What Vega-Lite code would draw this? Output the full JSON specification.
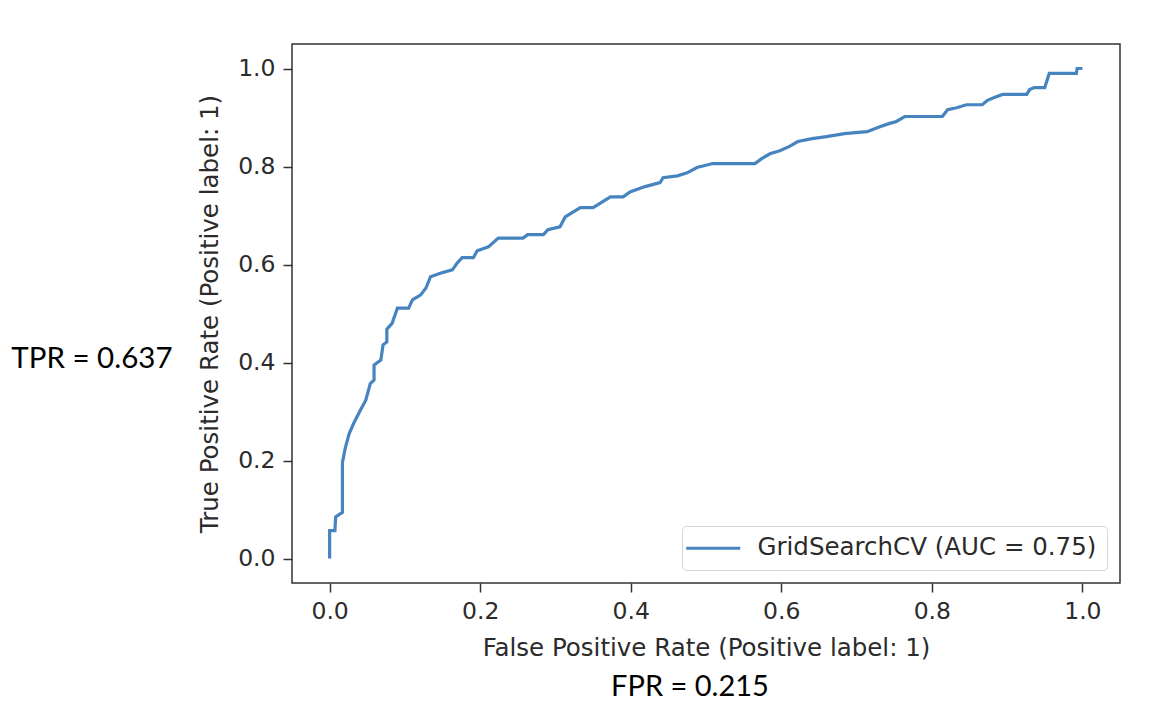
{
  "$schema": "https://vega.github.io/schema/vega-lite/v6.json",
  "autosize": "none",
  "width": 828,
  "height": 539,
  "padding": {"left": 292, "top": 44, "right": 30, "bottom": 133},
  "background": "white",
  "title": {
    "text": "FPR = 0.215",
    "orient": "bottom",
    "anchor": "middle",
    "font": "Lato",
    "fontSize": 29,
    "fontWeight": "normal",
    "color": "black",
    "offset": 13,
    "dx": -16
  },
  "data": {
    "values": [
      {"fpr": 0, "tpr": 0, "name": "GridSearchCV (AUC = 0.75)"},
      {"fpr": 0, "tpr": 0.057, "name": "GridSearchCV (AUC = 0.75)"},
      {"fpr": 0.007, "tpr": 0.057, "name": "GridSearchCV (AUC = 0.75)"},
      {"fpr": 0.008, "tpr": 0.085, "name": "GridSearchCV (AUC = 0.75)"},
      {"fpr": 0.017, "tpr": 0.094, "name": "GridSearchCV (AUC = 0.75)"},
      {"fpr": 0.017, "tpr": 0.196, "name": "GridSearchCV (AUC = 0.75)"},
      {"fpr": 0.021, "tpr": 0.227, "name": "GridSearchCV (AUC = 0.75)"},
      {"fpr": 0.026, "tpr": 0.255, "name": "GridSearchCV (AUC = 0.75)"},
      {"fpr": 0.032, "tpr": 0.276, "name": "GridSearchCV (AUC = 0.75)"},
      {"fpr": 0.041, "tpr": 0.303, "name": "GridSearchCV (AUC = 0.75)"},
      {"fpr": 0.048, "tpr": 0.323, "name": "GridSearchCV (AUC = 0.75)"},
      {"fpr": 0.054, "tpr": 0.357, "name": "GridSearchCV (AUC = 0.75)"},
      {"fpr": 0.059, "tpr": 0.364, "name": "GridSearchCV (AUC = 0.75)"},
      {"fpr": 0.059, "tpr": 0.395, "name": "GridSearchCV (AUC = 0.75)"},
      {"fpr": 0.068, "tpr": 0.405, "name": "GridSearchCV (AUC = 0.75)"},
      {"fpr": 0.071, "tpr": 0.436, "name": "GridSearchCV (AUC = 0.75)"},
      {"fpr": 0.076, "tpr": 0.442, "name": "GridSearchCV (AUC = 0.75)"},
      {"fpr": 0.076, "tpr": 0.468, "name": "GridSearchCV (AUC = 0.75)"},
      {"fpr": 0.083, "tpr": 0.48, "name": "GridSearchCV (AUC = 0.75)"},
      {"fpr": 0.09, "tpr": 0.511, "name": "GridSearchCV (AUC = 0.75)"},
      {"fpr": 0.105, "tpr": 0.511, "name": "GridSearchCV (AUC = 0.75)"},
      {"fpr": 0.11, "tpr": 0.528, "name": "GridSearchCV (AUC = 0.75)"},
      {"fpr": 0.121, "tpr": 0.538, "name": "GridSearchCV (AUC = 0.75)"},
      {"fpr": 0.128, "tpr": 0.552, "name": "GridSearchCV (AUC = 0.75)"},
      {"fpr": 0.134, "tpr": 0.575, "name": "GridSearchCV (AUC = 0.75)"},
      {"fpr": 0.147, "tpr": 0.582, "name": "GridSearchCV (AUC = 0.75)"},
      {"fpr": 0.163, "tpr": 0.589, "name": "GridSearchCV (AUC = 0.75)"},
      {"fpr": 0.169, "tpr": 0.602, "name": "GridSearchCV (AUC = 0.75)"},
      {"fpr": 0.176, "tpr": 0.614, "name": "GridSearchCV (AUC = 0.75)"},
      {"fpr": 0.191, "tpr": 0.614, "name": "GridSearchCV (AUC = 0.75)"},
      {"fpr": 0.196, "tpr": 0.628, "name": "GridSearchCV (AUC = 0.75)"},
      {"fpr": 0.211, "tpr": 0.636, "name": "GridSearchCV (AUC = 0.75)"},
      {"fpr": 0.224, "tpr": 0.654, "name": "GridSearchCV (AUC = 0.75)"},
      {"fpr": 0.257, "tpr": 0.654, "name": "GridSearchCV (AUC = 0.75)"},
      {"fpr": 0.263, "tpr": 0.661, "name": "GridSearchCV (AUC = 0.75)"},
      {"fpr": 0.284, "tpr": 0.661, "name": "GridSearchCV (AUC = 0.75)"},
      {"fpr": 0.29, "tpr": 0.671, "name": "GridSearchCV (AUC = 0.75)"},
      {"fpr": 0.306, "tpr": 0.677, "name": "GridSearchCV (AUC = 0.75)"},
      {"fpr": 0.313, "tpr": 0.697, "name": "GridSearchCV (AUC = 0.75)"},
      {"fpr": 0.333, "tpr": 0.716, "name": "GridSearchCV (AUC = 0.75)"},
      {"fpr": 0.35, "tpr": 0.716, "name": "GridSearchCV (AUC = 0.75)"},
      {"fpr": 0.373, "tpr": 0.738, "name": "GridSearchCV (AUC = 0.75)"},
      {"fpr": 0.39, "tpr": 0.738, "name": "GridSearchCV (AUC = 0.75)"},
      {"fpr": 0.399, "tpr": 0.748, "name": "GridSearchCV (AUC = 0.75)"},
      {"fpr": 0.419, "tpr": 0.759, "name": "GridSearchCV (AUC = 0.75)"},
      {"fpr": 0.439, "tpr": 0.767, "name": "GridSearchCV (AUC = 0.75)"},
      {"fpr": 0.443, "tpr": 0.777, "name": "GridSearchCV (AUC = 0.75)"},
      {"fpr": 0.462, "tpr": 0.781, "name": "GridSearchCV (AUC = 0.75)"},
      {"fpr": 0.475, "tpr": 0.787, "name": "GridSearchCV (AUC = 0.75)"},
      {"fpr": 0.488, "tpr": 0.798, "name": "GridSearchCV (AUC = 0.75)"},
      {"fpr": 0.509, "tpr": 0.806, "name": "GridSearchCV (AUC = 0.75)"},
      {"fpr": 0.565, "tpr": 0.806, "name": "GridSearchCV (AUC = 0.75)"},
      {"fpr": 0.574, "tpr": 0.816, "name": "GridSearchCV (AUC = 0.75)"},
      {"fpr": 0.585, "tpr": 0.826, "name": "GridSearchCV (AUC = 0.75)"},
      {"fpr": 0.598, "tpr": 0.832, "name": "GridSearchCV (AUC = 0.75)"},
      {"fpr": 0.611, "tpr": 0.841, "name": "GridSearchCV (AUC = 0.75)"},
      {"fpr": 0.622, "tpr": 0.851, "name": "GridSearchCV (AUC = 0.75)"},
      {"fpr": 0.641, "tpr": 0.857, "name": "GridSearchCV (AUC = 0.75)"},
      {"fpr": 0.66, "tpr": 0.861, "name": "GridSearchCV (AUC = 0.75)"},
      {"fpr": 0.684, "tpr": 0.867, "name": "GridSearchCV (AUC = 0.75)"},
      {"fpr": 0.714, "tpr": 0.871, "name": "GridSearchCV (AUC = 0.75)"},
      {"fpr": 0.731, "tpr": 0.881, "name": "GridSearchCV (AUC = 0.75)"},
      {"fpr": 0.744, "tpr": 0.888, "name": "GridSearchCV (AUC = 0.75)"},
      {"fpr": 0.753, "tpr": 0.892, "name": "GridSearchCV (AUC = 0.75)"},
      {"fpr": 0.764, "tpr": 0.902, "name": "GridSearchCV (AUC = 0.75)"},
      {"fpr": 0.814, "tpr": 0.902, "name": "GridSearchCV (AUC = 0.75)"},
      {"fpr": 0.821, "tpr": 0.916, "name": "GridSearchCV (AUC = 0.75)"},
      {"fpr": 0.833, "tpr": 0.92, "name": "GridSearchCV (AUC = 0.75)"},
      {"fpr": 0.846, "tpr": 0.926, "name": "GridSearchCV (AUC = 0.75)"},
      {"fpr": 0.867, "tpr": 0.926, "name": "GridSearchCV (AUC = 0.75)"},
      {"fpr": 0.874, "tpr": 0.935, "name": "GridSearchCV (AUC = 0.75)"},
      {"fpr": 0.883, "tpr": 0.941, "name": "GridSearchCV (AUC = 0.75)"},
      {"fpr": 0.894, "tpr": 0.947, "name": "GridSearchCV (AUC = 0.75)"},
      {"fpr": 0.926, "tpr": 0.947, "name": "GridSearchCV (AUC = 0.75)"},
      {"fpr": 0.93, "tpr": 0.957, "name": "GridSearchCV (AUC = 0.75)"},
      {"fpr": 0.936, "tpr": 0.961, "name": "GridSearchCV (AUC = 0.75)"},
      {"fpr": 0.95, "tpr": 0.961, "name": "GridSearchCV (AUC = 0.75)"},
      {"fpr": 0.956, "tpr": 0.99, "name": "GridSearchCV (AUC = 0.75)"},
      {"fpr": 0.992, "tpr": 0.99, "name": "GridSearchCV (AUC = 0.75)"},
      {"fpr": 0.993, "tpr": 1.0, "name": "GridSearchCV (AUC = 0.75)"},
      {"fpr": 1.0, "tpr": 1.0, "name": "GridSearchCV (AUC = 0.75)"}
    ]
  },
  "encoding": {
    "x": {
      "field": "fpr",
      "type": "quantitative",
      "scale": {"domain": [-0.05, 1.05], "nice": false, "zero": false},
      "axis": {
        "title": "False Positive Rate (Positive label: 1)",
        "values": [0, 0.2, 0.4, 0.6, 0.8, 1.0],
        "format": ".1f",
        "titleY": 65,
        "titleBaseline": "middle"
      }
    },
    "order": {"value": null}
  },
  "layer": [
    {
      "mark": {"type": "line", "strokeWidth": 3.2, "interpolate": "linear"},
      "encoding": {
        "y": {
          "field": "tpr",
          "type": "quantitative",
          "scale": {"domain": [-0.05, 1.05], "nice": false, "zero": false},
          "axis": {
            "title": "True Positive Rate (Positive label: 1)",
            "values": [0, 0.2, 0.4, 0.6, 0.8, 1.0],
            "format": ".1f",
            "titleX": -82,
            "titleBaseline": "middle"
          }
        },
        "color": {
          "field": "name",
          "type": "nominal",
          "scale": {"range": ["#4684c0"]},
          "legend": {
            "title": null,
            "orient": "bottom-right",
            "offset": 13,
            "padding": 10,
            "strokeColor": "#d6d6d6",
            "fillColor": "white",
            "cornerRadius": 4,
            "symbolType": "M-2.7,0L2.7,0",
            "symbolSize": 400,
            "symbolStrokeWidth": 3.2,
            "symbolOffset": 9,
            "labelOffset": 32,
            "labelFont": "DejaVu Sans",
            "labelFontSize": 24.5,
            "labelColor": "#2b2b2b",
            "labelLimit": 500
          }
        }
      }
    },
    {
      "mark": {"type": "line", "strokeOpacity": 0},
      "encoding": {
        "y": {
          "field": "tpr",
          "type": "quantitative",
          "scale": {"domain": [-0.05, 1.05], "nice": false, "zero": false},
          "axis": {
            "orient": "left",
            "title": "TPR = 0.637",
            "labels": false,
            "ticks": false,
            "domain": false,
            "grid": false,
            "titleAngle": 0,
            "titleAlign": "right",
            "titleBaseline": "middle",
            "titleFont": "Lato",
            "titleFontSize": 29.5,
            "titleFontWeight": "normal",
            "titleColor": "black",
            "titleX": -120,
            "titleY": 314
          }
        }
      }
    }
  ],
  "resolve": {"axis": {"y": "independent"}},
  "config": {
    "view": {"stroke": "#333", "strokeWidth": 1.5},
    "axis": {
      "grid": false,
      "domain": false,
      "tickColor": "#333",
      "tickSize": 9,
      "tickWidth": 1.5,
      "labelFont": "DejaVu Sans",
      "labelFontSize": 23.5,
      "labelColor": "#2b2b2b",
      "labelPadding": 8,
      "titleFont": "DejaVu Sans",
      "titleFontSize": 24.5,
      "titleFontWeight": "normal",
      "titleColor": "#2b2b2b"
    },
    "axisX": {"labelPadding": 7}
  }
}
